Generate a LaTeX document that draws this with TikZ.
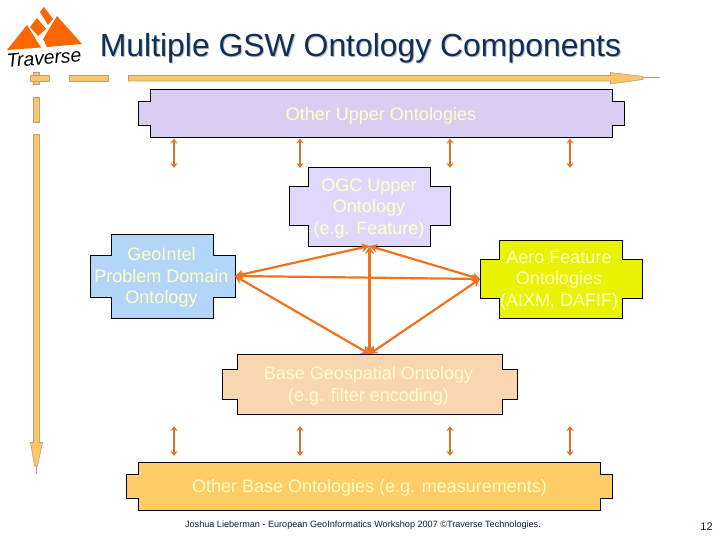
\documentclass[tikz,border=0pt]{standalone}
\usepackage{fontspec}
\setmainfont{Liberation Sans}
\usetikzlibrary{arrows.meta}
\definecolor{barfill}{HTML}{FBC56B}
\definecolor{barline}{HTML}{B9A27C}
\definecolor{linkor}{HTML}{EE7320}
\definecolor{stubor}{HTML}{D2772E}
\definecolor{logoor}{HTML}{FF6600}
\definecolor{boxtext}{HTML}{FFFFC4}
\definecolor{titleblue}{HTML}{10305C}
\definecolor{upperfill}{HTML}{D9CEF2}
\definecolor{ogcfill}{HTML}{E0D8FC}
\definecolor{geofill}{HTML}{B3D5FA}
\definecolor{aerofill}{HTML}{E9F200}
\definecolor{basefill}{HTML}{F7D6B0}
\definecolor{otherfill}{HTML}{FFCC66}
\tikzset{
  x=1pt, y=-1pt,
  plaque/.style={draw=black, line width=1pt},
  boxlabel/.style={text=boxtext, align=center, font=\fontsize{18}{21.8}\selectfont, inner sep=0pt, yshift=-1.5pt},
  boxarea/.style={inner sep=0pt, outer sep=0pt},
  link/.style={draw=linkor, line width=2.2pt, {Stealth[length=8pt,width=9pt]}-{Stealth[length=8pt,width=9pt]}},
  stub/.style={draw=stubor, line width=2pt, {Stealth[length=5pt,width=7pt,color=linkor]}-{Stealth[length=5pt,width=7pt,color=linkor]}},
  bar/.style={fill=barfill, draw=barline, line width=.6pt},
  logotri/.style={fill=logoor, draw=none},
  titletext/.style={font=\fontsize{31.9}{36}\selectfont, inner sep=0pt}
}
\begin{document}
\begin{tikzpicture}
  \useasboundingbox[fill=white] (0,0) rectangle (720,540);

  % logo
  \fill[logotri] (7,50) -- (27,25) -- (41,47.5) -- cycle;
  \fill[logotri] (30,27) -- (37,18) -- (46,29) -- (38,36) -- cycle;
  \fill[logotri] (40,12) -- (44,7) -- (53,19) -- (48,25) -- cycle;
  \fill[logotri] (57,16) -- (82,44) -- (47,47) -- (43,39) -- cycle;
  \node[rotate=5, font=\itshape\fontsize{19.3}{22}\selectfont, inner sep=0pt] (logo) at (44,58) {Traverse};

  % title
  \node[titletext, text=black!25] (titleshadow) at (361.5,49.5) {Multiple GSW Ontology Components};
  \node[titletext, text=titleblue] (title) at (360.5,48.5) {Multiple GSW Ontology Components};

  % dashed bars
  \draw[bar] (33.5,72.5) rectangle (39.5,84.5);
  \draw[bar] (30.5,75.5) rectangle (49.5,81);
  \draw[bar] (69.5,75.5) rectangle (108.5,81);
  \draw[barline, line width=1pt] (640,78) -- (660,78);
  \draw[bar] (128.5,75.5) -- (610.5,75.5) -- (610.5,72.5) -- (643,76.5) -- (643,79.5) -- (610.5,84) -- (610.5,81) -- (128.5,81) -- cycle;
  \draw[bar] (33.5,97.5) rectangle (39.5,122.5);
  \draw[barline, line width=1pt] (36,462) -- (36,474);
  \draw[bar] (33.5,134.5) -- (39.5,134.5) -- (39.5,442.5) -- (42.5,442.5) -- (37.5,466) -- (34.5,466) -- (30.5,442.5) -- (33.5,442.5) -- cycle;

  % ontology plaques: name/fill/tab left/left/right/tab right/top/tab top/tab bottom/bottom/text shift/text
  \foreach \n/\c/\xa/\xb/\xc/\xd/\ya/\yb/\yc/\yd/\dx/\t in {
    upper/upperfill/138/150/612/624/90/102/126/138/0/{Other Upper Ontologies},
    ogc/ogcfill/289/308/430/450/168/187/226/246/-0.5/{OGC Upper\\Ontology\\(e.g. Feature)},
    geo/geofill/90/111/213/235/234/255/297/318/-1/{GeoIntel\\Problem Domain\\Ontology},
    aero/aerofill/480/499/622/642/240/259/298/318/-2/{Aero Feature\\Ontologies\\(AIXM, DAFIF)},
    base/basefill/222/237/502/517/354/369/399/414/-1/{Base Geospatial Ontology\\(e.g. filter encoding)},
    other/otherfill/126/138/600/612/462/474/498/510/3/{Other Base Ontologies (e.g. measurements)}
  }{
    \draw[plaque, fill=\c] (\xb,\ya) -- (\xc,\ya) -- (\xc,\yb) -- (\xd,\yb) -- (\xd,\yc) -- (\xc,\yc)
      -- (\xc,\yd) -- (\xb,\yd) -- (\xb,\yc) -- (\xa,\yc) -- (\xa,\yb) -- (\xb,\yb) -- cycle;
    \node[boxarea, minimum width={(\xd-\xa)*1pt}, minimum height={(\yd-\ya)*1pt},
      label={[boxlabel, xshift=\dx pt]center:{\t}}] (\n) at ({(\xa+\xd)/2},{(\ya+\yd)/2}) {};
  }

  % links between the central ontologies
  \draw[link] (geo.east) -- (ogc.south);
  \draw[link] (geo.east) -- (aero.west);
  \draw[link] (geo.east) -- (base.north);
  \draw[link] (ogc.south) -- (aero.west);
  \draw[link] (ogc.south) -- (base.north);
  \draw[link] (base.north) -- (aero.west);

  % short arrows to the upper and base ontologies
  \foreach \x in {174,300,450,570}{
    \coordinate (ua\x) at (\x,138.5);
    \coordinate (ub\x) at (\x,168);
    \coordinate (la\x) at (\x,426);
    \coordinate (lb\x) at (\x,456);
    \draw[stub] (ua\x) -- (ub\x);
    \draw[stub] (la\x) -- (lb\x);
  }

  % footer
  \node[text=titleblue!60!black, font=\fontsize{9.1}{10}\selectfont, inner sep=0pt] (foot) at (363,525.5)
    {Joshua Lieberman - European GeoInformatics Workshop 2007 ©Traverse Technologies.};
  \node[text=titleblue!60!black, font=\fontsize{11}{12}\selectfont, inner sep=0pt] (page) at (706.5,526.5) {12};
\end{tikzpicture}
\end{document}
